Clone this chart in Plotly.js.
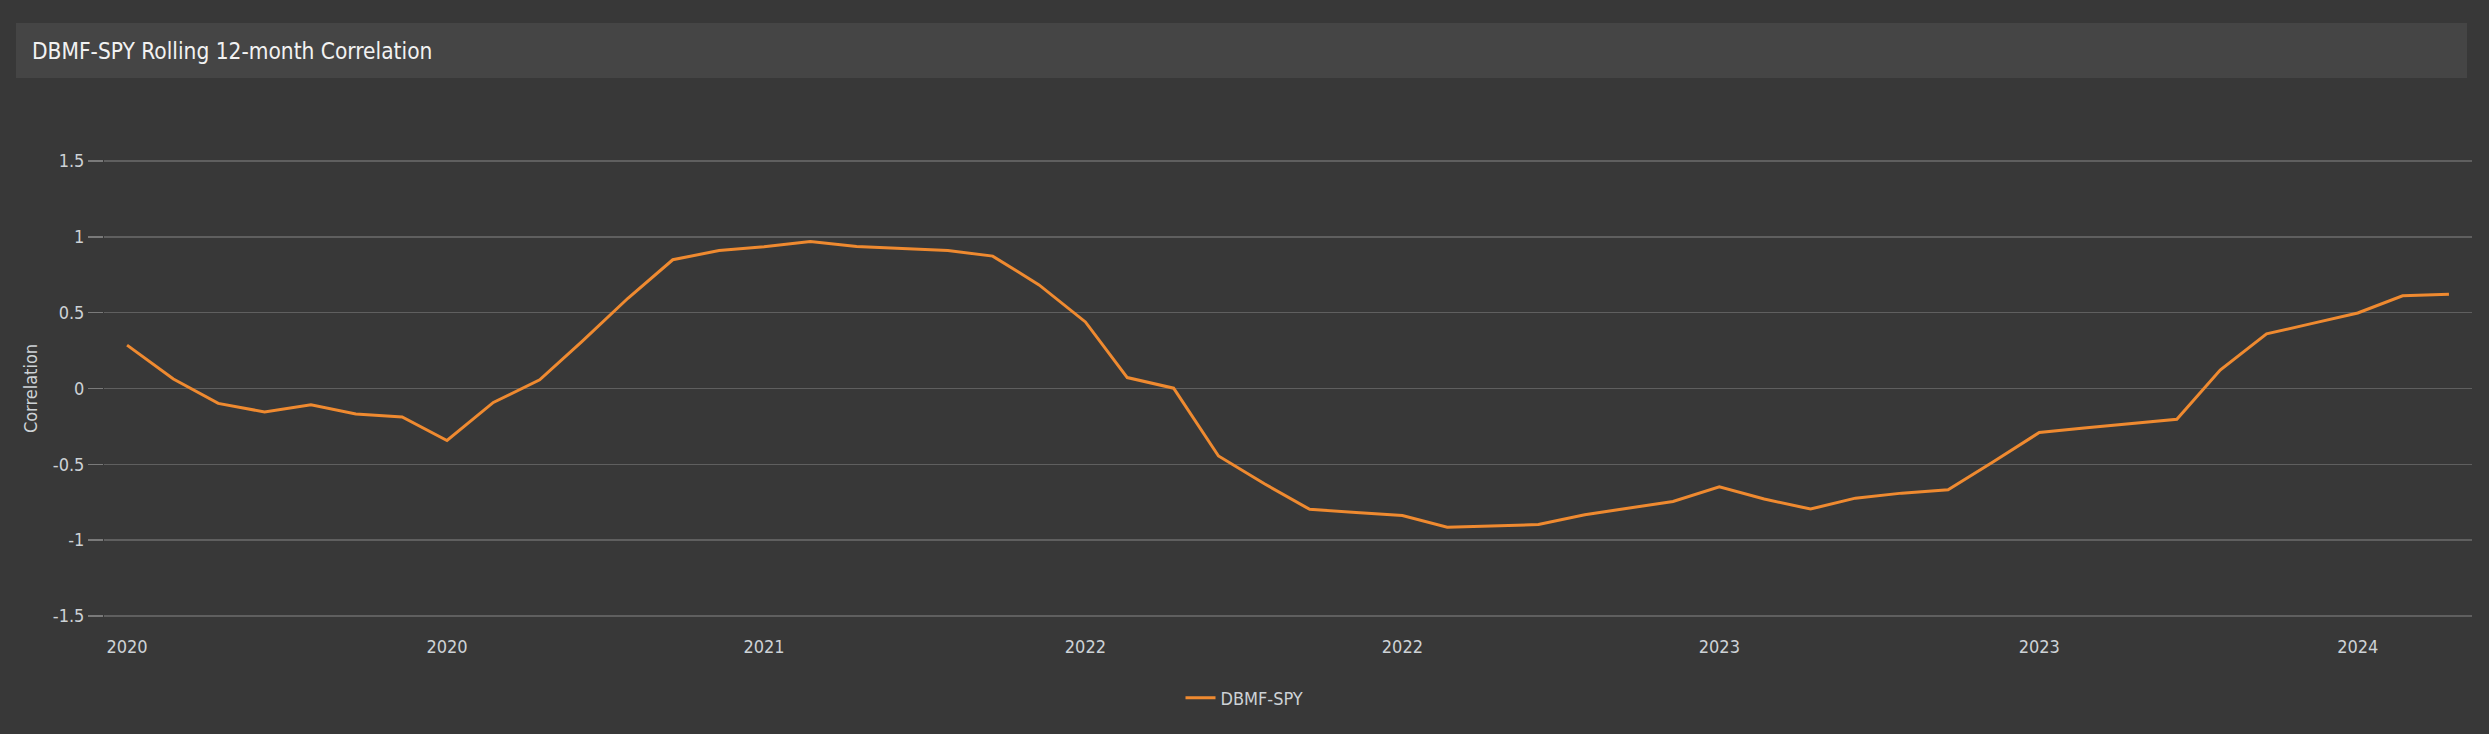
<!DOCTYPE html>
<html>
<head>
<meta charset="utf-8">
<script src="https://cdn.plot.ly/plotly-3.0.1.min.js"></script>
<style>
  html, body { margin: 0; padding: 0; background: #383838; }
  #chart { width: 2489px; height: 734px; }
</style>
</head>
<body>
<div id="chart"></div>
<script>
// ---- data ----
const seriesName = "DBMF-SPY";
const months = [
  "2020-05-01","2020-06-01","2020-07-01","2020-08-01","2020-09-01","2020-10-01","2020-11-01","2020-12-01",
  "2021-01-01","2021-02-01","2021-03-01","2021-04-01","2021-05-01","2021-06-01","2021-07-01","2021-08-01",
  "2021-09-01","2021-10-01","2021-11-01","2021-12-01","2022-01-01","2022-02-01","2022-03-01","2022-04-01",
  "2022-05-01","2022-06-01","2022-07-01","2022-08-01","2022-09-01","2022-10-01","2022-11-01","2022-12-01",
  "2023-01-01","2023-02-01","2023-03-01","2023-04-01","2023-05-01","2023-06-01","2023-07-01","2023-08-01",
  "2023-09-01","2023-10-01","2023-11-01","2023-12-01","2024-01-01","2024-02-01","2024-03-01","2024-04-01",
  "2024-05-01","2024-06-01","2024-07-01","2024-08-01"
];
const correlation = [
  0.286, 0.063, -0.098, -0.155, -0.107, -0.168, -0.188, -0.343,
  -0.092, 0.057, 0.308, 0.595, 0.849, 0.910, 0.934, 0.969,
  0.937, 0.924, 0.910, 0.873, 0.683, 0.439, 0.072, 0.002,
  -0.445, -0.630, -0.797, -0.817, -0.838, -0.915, -0.906, -0.897,
  -0.832, -0.786, -0.745, -0.648, -0.729, -0.795, -0.723, -0.690,
  -0.668, -0.485, -0.290, -0.260, -0.231, -0.203, 0.122, 0.360,
  0.428, 0.498, 0.611, 0.622
];
const yTickValues = [-1.5, -1, -0.5, 0, 0.5, 1, 1.5];
const yTickLabels = ["-1.5", "-1", "-0.5", "0", "0.5", "1", "1.5"];
const chartTitle = "DBMF-SPY Rolling 12-month Correlation";
const yTitle = "Correlation";

const FONT = "'DejaVu Sans Condensed', 'DejaVu Sans', sans-serif";
const TEXT = "#cdd2d6";

const W = 2489, H = 734;
const M = { l: 104, r: 17, t: 158, b: 115 };
const plotW = W - M.l - M.r, plotH = H - M.t - M.b;

const trace = {
  x: months,
  y: correlation,
  type: "scatter",
  mode: "lines",
  name: seriesName,
  line: { color: "#ef8a30", width: 3 },
  hoverinfo: "x+y"
};

const layout = {
  width: W,
  height: H,
  paper_bgcolor: "#383838",
  plot_bgcolor: "#383838",
  margin: { l: M.l, r: M.r, t: M.t, b: M.b, pad: 0 },
  font: { family: FONT, color: TEXT, size: 18 },
  title: {
    text: chartTitle,
    font: { family: FONT, size: 22.5, color: "#f2f2f2" },
    x: 32 / W, xanchor: "left", xref: "container",
    y: 1 - 51 / H, yanchor: "middle", yref: "container"
  },
  shapes: [{
    type: "rect", xref: "paper", yref: "paper", layer: "below",
    x0: (16 - M.l) / plotW, x1: (2467 - M.l) / plotW,
    y0: (H - M.b - 78) / plotH, y1: (H - M.b - 23) / plotH,
    fillcolor: "#454545", line: { width: 0 }
  }],
  xaxis: {
    type: "date",
    range: ["2020-04-15 14:00", "2024-08-16 10:00"],
    tick0: "2020-05-01",
    dtick: "M7",
    tickformat: "%Y",
    showgrid: false,
    zeroline: false,
    showline: false,
    ticks: "outside",
    ticklen: 11,
    tickcolor: "rgba(0,0,0,0)",
    tickfont: { family: FONT, size: 18, color: TEXT }
  },
  yaxis: {
    range: [-1.52, 1.52],
    tickmode: "array",
    tickvals: yTickValues,
    ticktext: yTickLabels,
    showgrid: true,
    gridcolor: "#5f5f5f",
    gridwidth: 1.5,
    zeroline: false,
    showline: false,
    ticks: "outside",
    ticklen: 15,
    tickwidth: 1.5,
    tickcolor: "#7a7a7a",
    tickfont: { family: FONT, size: 18, color: TEXT },
    title: { text: yTitle, font: { family: FONT, size: 18, color: TEXT }, standoff: 10 }
  },
  showlegend: true,
  legend: {
    orientation: "h",
    x: 0.5, xanchor: "center", xref: "container",
    y: 1 - 698 / H, yanchor: "middle", yref: "container",
    font: { family: FONT, size: 18, color: TEXT },
    bgcolor: "rgba(0,0,0,0)"
  }
};

Plotly.newPlot("chart", [trace], layout, { displayModeBar: false, staticPlot: true });
</script>
</body>
</html>
